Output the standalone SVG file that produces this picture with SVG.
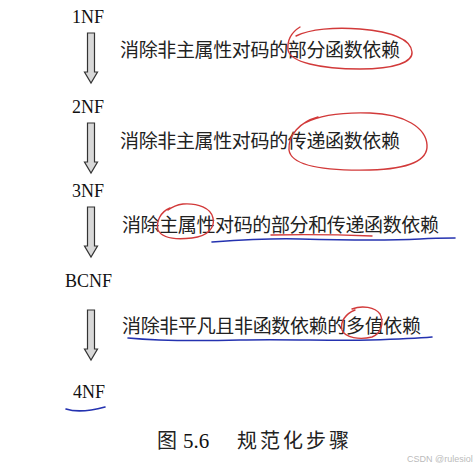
<svg xmlns="http://www.w3.org/2000/svg" width="474" height="467" viewBox="0 0 474 467">
<style>
.lbl{font-family:"Liberation Serif","Times New Roman",serif;font-size:18px;fill:#111}
.cn{font-family:"Noto Sans CJK SC","Noto Sans",sans-serif;font-size:19px;fill:#222}
.arr{fill:#d8d8d8;stroke:#333;stroke-width:1.2}
.red{fill:none;stroke:#d23a3a;stroke-width:1.4;stroke-linecap:round}
.blue{fill:none;stroke:#2432b0;stroke-width:1.6;stroke-linecap:round}
.cap{font-size:20px;fill:#222}
</style>
<defs>
<path id="arrow" class="arr" d="M87.5,0 H94.5 V39 H97.5 L91,50 L84.5,39 H87.5 Z"/>
</defs>
<rect width="474" height="467" fill="#fff"/>
<g id="n1NF"><text class="lbl" x="72" y="23">1NF</text></g>
<g id="n2NF"><text class="lbl" x="72" y="113">2NF</text></g>
<g id="n3NF"><text class="lbl" x="72" y="197">3NF</text></g>
<g id="nBCNF"><text class="lbl" x="65" y="287">BCNF</text></g>
<g id="n4NF"><text class="lbl" x="73" y="398">4NF</text></g>
<g id="connectors">
<use href="#arrow" transform="translate(0,33)"/>
<use href="#arrow" transform="translate(0,123)"/>
<use href="#arrow" transform="translate(0,207)"/>
<use href="#arrow" transform="translate(0,310)"/>
</g>
<g id="labels">
<text class="cn" x="120" y="57" textLength="280" lengthAdjust="spacing">消除非主属性对码的部分函数依赖</text>
<text class="cn" x="120" y="148" textLength="280" lengthAdjust="spacing">消除非主属性对码的传递函数依赖</text>
<text class="cn" x="122" y="232" textLength="317" lengthAdjust="spacing">消除主属性对码的部分和传递函数依赖</text>
<text class="cn" x="122" y="333" textLength="299" lengthAdjust="spacing">消除非平凡且非函数依赖的多值依赖</text>
</g>
<g id="annotations">
<path class="red" d="M300,27 C292,32 287,40 288,50 C290,62 320,69 360,69 C395,69 413,62 412,52 C411,40 395,32 360,29 C335,27 310,29 296,36"/>
<path class="red" d="M318,117 C300,122 288,135 289,150 C291,165 320,171 370,170 C410,169 428,160 427,145 C426,128 405,114 370,113 C340,112 318,116 305,123"/>
<path class="red" d="M170,208 C160,212 156,222 158,230 C162,238 175,240 192,238 C208,236 215,228 213,218 C211,208 198,203 183,204 C176,205 172,207 168,210"/>
<path class="red" d="M271,235 Q320,234 372,236"/>
<path class="red" d="M355,310 C345,314 340,322 342,330 C345,338 360,340 372,337 C382,333 384,322 380,314 C375,307 362,305 352,309"/>
<path class="blue" d="M212,242 C240,240 270,238 300,239 C340,240 380,241 420,239 C435,238 448,238 455,238"/>
<path class="blue" d="M128,338 C160,341 200,341 240,340 C290,339 330,341 370,340 C400,339 420,338 432,337"/>
<path class="blue" d="M66,409 C75,412 90,411 105,407"/>
</g>
<g id="caption">
<text class="cn cap" x="157" y="448">图</text>
<text class="lbl" x="183" y="448" style="font-size:21px">5.6</text>
<text class="cn cap" x="237" y="448" style="letter-spacing:3px">规范化步骤</text>
</g>
<text x="407" y="462" style="font-family:'Liberation Sans',Arial,sans-serif;font-size:9px;fill:#bbb">CSDN @rulesiol</text>
</svg>
